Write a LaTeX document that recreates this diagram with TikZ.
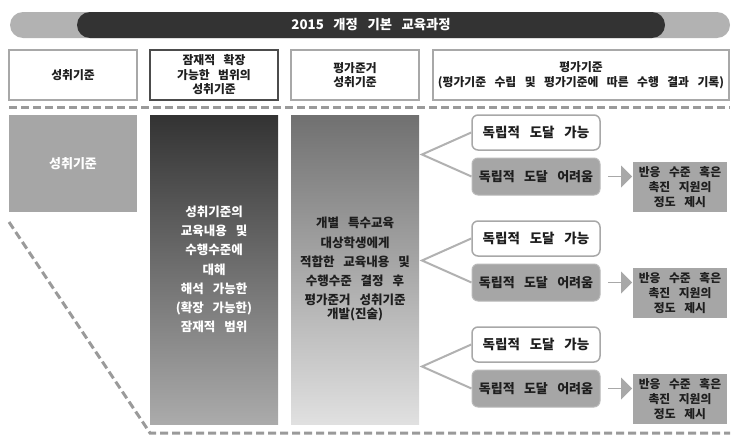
\documentclass[tikz,border=0pt]{standalone}
\usepackage{fontspec}
\setmainfont{Noto Sans CJK KR}
\usetikzlibrary{positioning}
\usetikzlibrary{shapes.arrows}
\newcommand{\wordgap}[1]{\spaceskip #1\relax}
\definecolor{barlight}{HTML}{B2B2B2}
\definecolor{bardark}{HTML}{333333}
\definecolor{boxline}{HTML}{A8A8A8}
\definecolor{boxgray}{HTML}{A6A6A6}
\definecolor{dashgray}{HTML}{9A9A9A}
\definecolor{txt}{HTML}{1E1E1E}
\tikzstyle{headbox}=[draw=boxline,line width=1.5pt,fill=white,minimum width=128pt,minimum height=50pt,inner sep=0pt,align=center,text=txt,font=\bfseries\fontsize{11.8}{14.5}\selectfont\wordgap{8.5pt}]
\tikzstyle{column}=[minimum width=128pt,minimum height=309pt,inner sep=0pt,align=center,font=\bfseries\fontsize{12.5}{19.2}\selectfont\wordgap{9pt}]
\tikzstyle{okbox}=[rounded corners=6pt,draw=boxline,line width=1.5pt,fill=white,minimum width=128pt,minimum height=35pt,inner sep=0pt,text=txt,font=\bfseries\fontsize{13.5}{16}\selectfont\wordgap{9.8pt}]
\tikzstyle{hardbox}=[rounded corners=6pt,draw=boxline!80!white,line width=1pt,fill=boxgray,minimum width=128pt,minimum height=37pt,inner sep=0pt,text=txt,font=\bfseries\fontsize{13}{16}\selectfont\wordgap{9.3pt}]
\tikzstyle{respbox}=[fill=boxgray,minimum width=94pt,minimum height=50pt,inner sep=0pt,align=center,text=txt,font=\bfseries\fontsize{11.8}{15}\selectfont\wordgap{8.6pt}]
\tikzstyle{blockarrow}=[single arrow,fill=boxline,draw=none,minimum height=24pt,minimum width=22pt,single arrow head extend=6pt,inner sep=0pt]
\tikzstyle{branch}=[draw=boxline!90!white,line width=2pt]
\tikzstyle{sep}=[draw=dashgray,line width=3pt,dash pattern=on 8pt off 4pt]

\begin{document}
\begin{tikzpicture}[x=1pt,y=-1pt,font=\bfseries\fontsize{12}{14}\selectfont]
  \useasboundingbox (0,0) rectangle (742,447);

  % title bar
  \node[rounded corners=13pt,fill=barlight,minimum width=720pt,minimum height=26pt] (barback) at (370,25) {};
  \node[rounded corners=13pt,fill=bardark,minimum width=588pt,minimum height=26pt,text=white,font=\bfseries\fontsize{13.3}{14}\selectfont\wordgap{9.6pt}] (title) at (371,25) {2015 개정 기본 교육과정};

  % header row
  \node[headbox] (h1) at (73,75) {성취기준};
  \node[headbox,draw=black!70] (h2) at (214,75) {잠재적 확장\\가능한 범위의\\성취기준};
  \node[headbox] (h3) at (355,75) {평가준거\\성취기준};
  \node[headbox,minimum width=296pt] (h4) at (581,75) {평가기준\\(평가기준 수립 및 평가기준에 따른 수행 결과 기록)};

  \coordinate (topl) at (9,107);
  \coordinate (topr) at (730,107);
  \path[sep] (topl) -- (topr);

  % columns
  \node[fill=boxgray,minimum width=128pt,minimum height=97pt,text=white,font=\bfseries\fontsize{13}{15}\selectfont] (std) at (73,163.5) {성취기준};
  \node[column,top color=bardark,bottom color=black!33,text=white] (latent) at (214,269.5)
      {성취기준의\\교육내용 및\\수행수준에\\대해\\해석 가능한\\(확장 가능한)\\잠재적 범위};
  \node[column,top color=black!56,bottom color=black!12,text=txt] (crit) at (355,269.5)
      {개별 특수교육\\대상학생에게\\적합한 교육내용 및\\수행수준 결정 후\\평가준거 성취기준\\[-5pt]개발(진술)};

  \coordinate (diag1) at (9,222);
  \coordinate (diag2) at (150,433);
  \coordinate (diag3) at (730,433);
  \path[sep] (diag1) -- (diag2) -- (diag3);

  % evaluation groups
  \foreach \y/\n in {132.5/1, 238.5/2, 344.5/3} {
    \node[okbox] (ok\n) at (536,\y) {독립적 도달 가능};
    \node[hardbox] (hard\n) at (536,\y+44) {독립적 도달 어려움};
    \node[blockarrow] (arr\n) at (620,\y+44) {};
    \node[respbox] (resp\n) at (680,\y+54.5) {반응 수준 혹은\\촉진 지원의\\정도 제시};
    \coordinate (fork\n) at (422,\y+22);
    \path[branch] (ok\n.west) -- (fork\n) -- (hard\n.west);
  }

\end{tikzpicture}
\end{document}
